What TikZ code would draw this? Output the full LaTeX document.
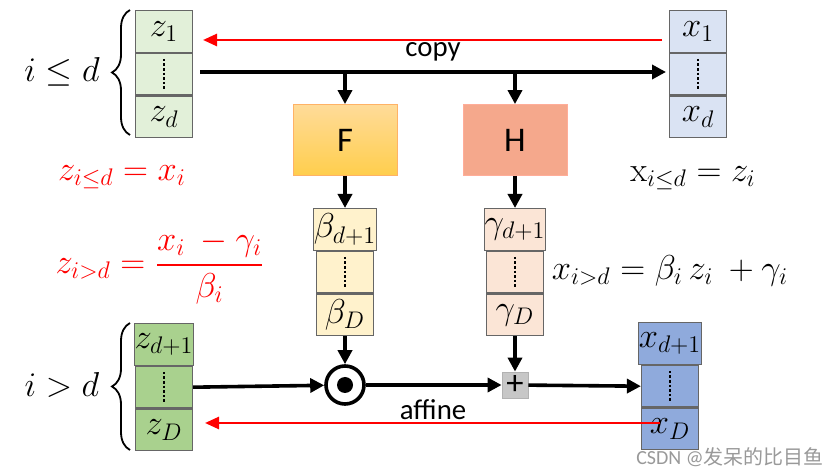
\documentclass[tikz,border=0pt]{standalone}
\usepackage{amsmath}
\usepackage{fontspec}
\setmainfont{Carlito}
\newfontfamily\cjk{Noto Sans CJK SC}
\usetikzlibrary{arrows.meta,decorations.pathreplacing}
\begin{document}
\begin{tikzpicture}[x=0.5pt,y=-0.5pt,
  cell/.style={draw=black!60,line width=0.6pt,minimum width=28.5pt,minimum height=20.8pt,inner sep=0pt,font=\LARGE},
  arr/.style={line width=1.8pt,-{Triangle[length=7pt,width=7pt]}},
  rarr/.style={red,line width=1.3pt,-{Triangle[length=7pt,width=6pt]}},
  box/.style={minimum width=52pt,minimum height=35.5pt,inner sep=0pt,font=\LARGE}]
\useasboundingbox (0,0) rectangle (839,474);
\definecolor{ga}{HTML}{E2F0D9}\definecolor{gb}{HTML}{A9D18E}
\definecolor{ba}{HTML}{DAE3F3}\definecolor{bb}{HTML}{8FAADC}
\definecolor{ya}{HTML}{FFF2CC}\definecolor{pa}{HTML}{FBE5D6}
% columns
\foreach \n/\x/\y/\c/\a/\b in {lt/164/10/ga/z_1/z_d, lb/164/323/gb/z_{d+1}/z_D, rt/698/10/ba/x_1/x_d, rb/670/322/bb/x_{d+1}/x_D, be/345/208/ya/\beta_{d+1}/\beta_D, ga/515/208/pa/\gamma_{d+1}/\gamma_D}{
  \node[cell,fill=\c,anchor=north] (\n1) at (\x,\y) {$\a$};
  \node[cell,fill=\c,anchor=north] (\n2) at (\n1.south) {};
  \node[cell,fill=\c,anchor=north] (\n3) at (\n2.south) {$\b$};
  \draw[densely dotted,line width=1.3pt] ([yshift=-3pt]\n2.north) -- ([yshift=3pt]\n2.south);
}
\draw[decorate,decoration={brace,amplitude=9pt},line width=0.9pt] (130,135) -- (130,10);
\draw[decorate,decoration={brace,amplitude=9pt},line width=0.9pt] (130,450) -- (130,323);
\node[font=\LARGE] (ild) at (62,72) {$i\le d$};
\node[font=\LARGE] (igd) at (62,385) {$i> d$};
% F H
\node[box,draw=orange!60,top color=yellow!30!orange!40,bottom color=orange!55!yellow!70] (F) at (345,140) {F};
\node[box,draw=orange!40!red!40,fill={rgb,255:red,245;green,168;blue,140}] (H) at (515,140) {H};
% top lines
\coordinate (s1) at (200,72);
\coordinate (e1) at (666,72);
\draw[arr] (s1) -- (e1);
\draw[rarr] (662,40) -- (203,40);
\node[font=\Large] (copy) at (433,52) {copy};
\draw[arr] (F.north |- s1) -- (F.north);
\draw[arr] (H.north |- s1) -- (H.north);
\draw[arr] (F.south) -- (be1.north);
\draw[arr] (H.south) -- (ga1.north);
% bottom
\node[circle,draw,line width=1.8pt,minimum size=19pt,inner sep=0pt,fill=white] (od) at (345,385) {};
\fill (od) circle (4pt);
\node[draw=black!30,fill=black!22,minimum size=13pt,inner sep=0pt,font=\LARGE] (pl) at (515,385) {+};
\draw[arr] (lb2.east) -- (od);
\draw[arr] (od) -- (pl);
\draw[arr] (pl) -- (rb2.west);
\draw[arr] (be3.south) -- (od);
\draw[arr] (ga3.south) -- (pl);
\draw[rarr] (660,423) -- (205,423);
\node[font=\Large] (aff) at (433,410) {affine};
% equations
\node[red,font=\LARGE] (e1t) at (122,177) {$z_{i\le d}=x_i$};
\node[red,font=\LARGE] (e2t) at (160,267) {$z_{i>d}=\dfrac{x_i\ -\gamma_i}{\beta_i}$};
\node[font=\LARGE] (e3t) at (693,178) {$\text{\usefont{TU}{lmr}{m}{n}x}_{i\le d}=z_i$};
\node[font=\LARGE] (e4t) at (670,271) {$x_{i>d}=\beta_i\, z_i\ +\gamma_i$};
\node[black!40,font=\normalsize] (wm) at (730,457) {CSDN @{\cjk 发呆的比目鱼}};
\end{tikzpicture}
\end{document}
